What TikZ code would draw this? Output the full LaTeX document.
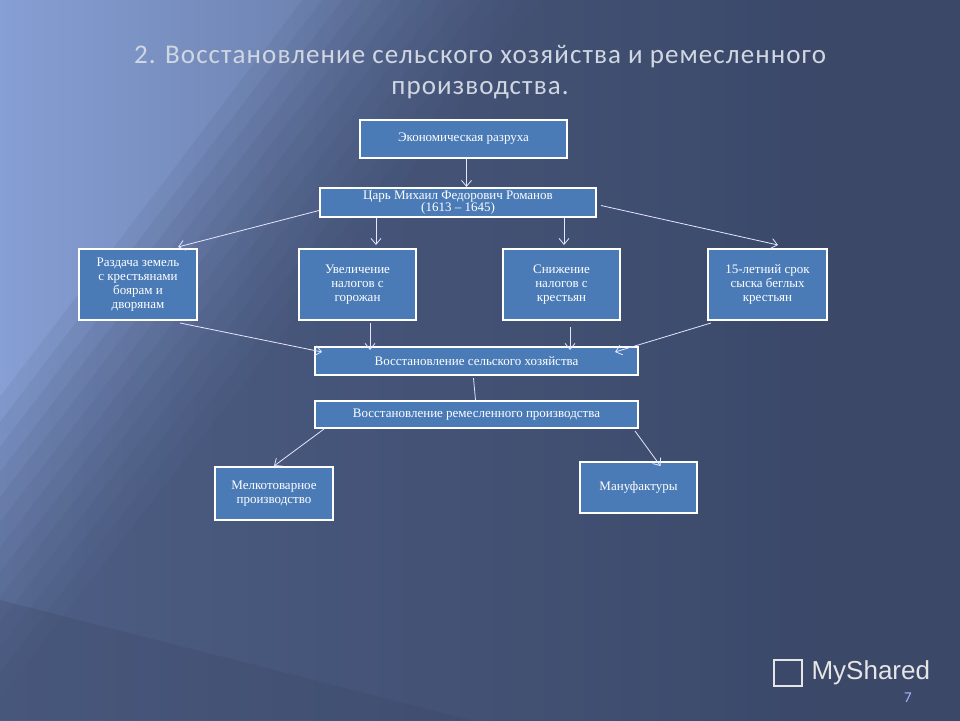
\documentclass[tikz,border=0pt]{standalone}
\usepackage{fontspec}
\setmainfont{Liberation Serif}
\newfontfamily\titlefont[LetterSpace=4]{Carlito}
\newfontfamily\logofont{Liberation Sans}
\usetikzlibrary{arrows.meta}
\definecolor{boxblue}{HTML}{4A7BB7}
\definecolor{bgdark}{HTML}{3B4868}
\definecolor{bglight}{HTML}{869FD4}
\definecolor{titlecol}{HTML}{D0D6E2}
\tikzset{
  bx/.style={draw=white, line width=2pt, fill=boxblue, text=white, align=center, inner sep=1pt, font=\fontsize{13}{14}\selectfont},
  ar/.style={draw=white!90!blue, line width=0.8pt, -{Straight Barb[length=6pt,width=10pt]}},
  ln/.style={draw=white!90!blue, line width=0.8pt},
}
\begin{document}
\begin{tikzpicture}[x=1pt,y=-1pt]
\useasboundingbox (0,0) rectangle (960,720);
\shade[left color=bglight, right color=bgdark] (0,0) rectangle (960,720);
\begin{scope}
\clip (0,0) rectangle (960,720);
\foreach \k in {-6,...,6}{
  \fill[bgdark, opacity=0.09] (-10,-10) -- (980,-10) -- (980,730) -- (-10,730) -- (-10,{560+25*\k}) -- ({430+20*\k},-10) -- cycle;
}
\fill[bgdark, opacity=0.3] (0,720) -- (0,600) -- (470,720) -- cycle;
\end{scope}
\node[text=titlecol, font=\titlefont\fontsize{27}{31}\selectfont, align=center] (title) at (480,72) {2. Восстановление сельского хозяйства и ремесленного\\производства.};
\node[bx, minimum width=207, minimum height=38] (e) at (463.5,139) {Экономическая разруха};
\node[bx, minimum width=276, minimum height=29, font=\fontsize{13}{12}\selectfont] (t) at (458,202.5) {Царь Михаил Федорович Романов\\(1613 – 1645)};
\node[bx, minimum width=118, minimum height=71] (r1) at (138,284.5) {Раздача земель\\с крестьянами\\боярам и\\дворянам};
\node[bx, minimum width=117, minimum height=71] (r2) at (357.5,284.5) {Увеличение\\налогов с\\горожан};
\node[bx, minimum width=117, minimum height=71] (r3) at (561.5,284.5) {Снижение\\налогов с\\крестьян};
\node[bx, minimum width=119, minimum height=71] (r4) at (767.5,284.5) {15-летний срок\\сыска беглых\\крестьян};
\node[bx, minimum width=323, minimum height=28] (vs) at (476.5,361) {Восстановление сельского хозяйства};
\node[bx, minimum width=323, minimum height=27] (vr) at (476.5,414.5) {Восстановление ремесленного производства};
\node[bx, minimum width=118, minimum height=53] (m1) at (274,493.5) {Мелкотоварное\\производство};
\node[bx, minimum width=117, minimum height=51] (m2) at (638.5,487.5) {Мануфактуры};
\coordinate (a1) at (178,247); \coordinate (a2) at (376,245);
\coordinate (a3) at (564,245); \coordinate (a4) at (778,245);
\draw[ar] (e.south) ++(3,0) -- ([xshift=3pt]e.south |- t.north);
\draw[ar] ([yshift=-8pt]t.west) -- (a1);
\draw[ar] (t.south -| a2) -- (a2);
\draw[ar] (t.south -| a3) -- (a3);
\draw[ar] ([xshift=4pt,yshift=-3pt]t.east) -- (a4);
\coordinate (b1) at (322,352); \coordinate (b2) at (370,350);
\coordinate (b3) at (570,350); \coordinate (b4) at (615,352);
\draw[ar] ([xshift=-18pt,yshift=-2pt]r1.south east) -- (b1);
\draw[ar] ([yshift=-2pt]r2.south -| b2) -- (b2);
\draw[ar] ([yshift=-6pt]r3.south -| b3) -- (b3);
\draw[ar] ([xshift=4pt,yshift=-2pt]r4.south west) -- (b4);
\draw[ln] ([xshift=-3pt,yshift=-2pt]vs.south) -- ([xshift=-1pt]vr.north);
\draw[ar] ([xshift=10pt]vr.south west) -- (m1.north);
\draw[ar] ([xshift=-4pt,yshift=-2pt]vr.south east) -- ([xshift=22pt,yshift=-5pt]m2.north);
\node[text=white!80!gray, font=\logofont\fontsize{26}{28}\selectfont, anchor=west] (logo) at (808,673) {MyShared};
\node[draw=white!80!gray, line width=2pt, minimum width=28, minimum height=26] (lg) at (788,673) {};
\node[text=white!70!blue, font=\titlefont\fontsize{15}{16}\selectfont] (pn) at (908,698) {7};
\end{tikzpicture}
\end{document}
